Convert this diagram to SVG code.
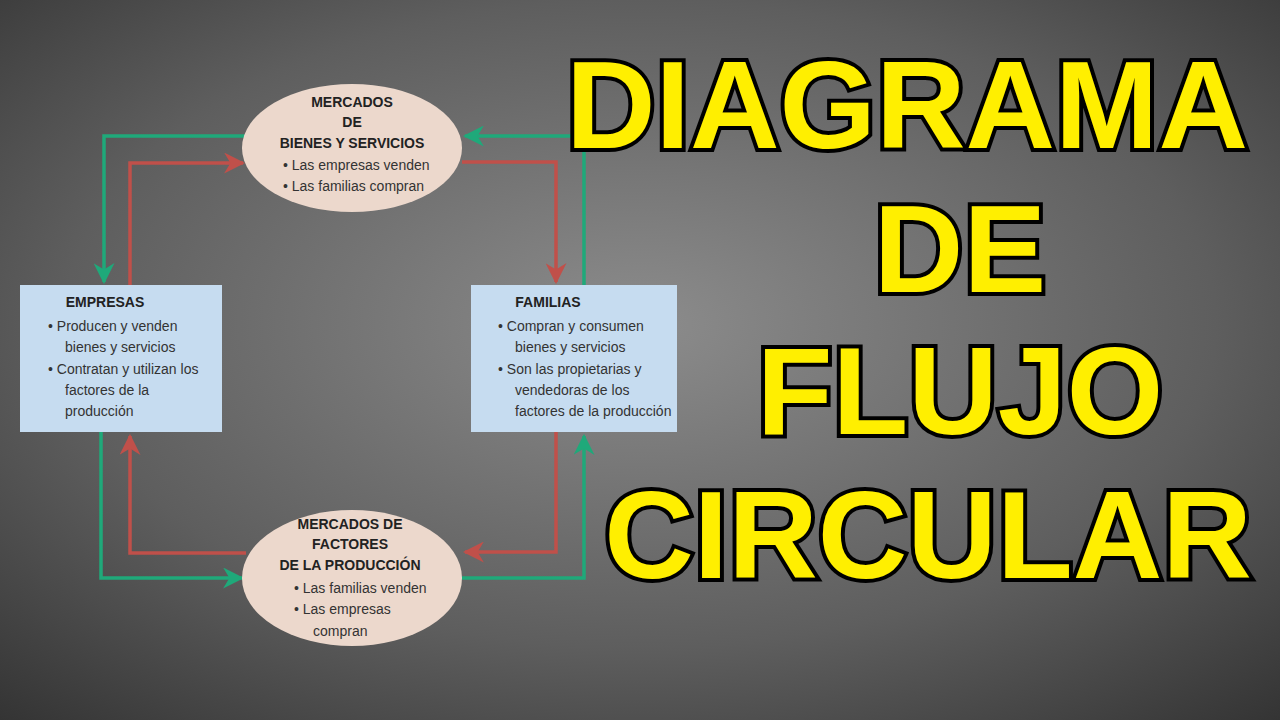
<svg xmlns="http://www.w3.org/2000/svg" width="1280" height="720" viewBox="0 0 1280 720">
<defs>
<radialGradient id="bg" cx="0.5" cy="0.45" r="0.75">
<stop offset="0" stop-color="#8c8c8c"/><stop offset="0.6" stop-color="#5e5e5e"/><stop offset="1" stop-color="#333"/>
</radialGradient>
<marker id="ag" viewBox="0 0 10 10" refX="9" refY="5" markerWidth="6" markerHeight="6" orient="auto" markerUnits="strokeWidth"><path d="M0,0 L10,5 L0,10 L3,5 z" fill="#1fa97a"/></marker>
<marker id="ar" viewBox="0 0 10 10" refX="9" refY="5" markerWidth="6" markerHeight="6" orient="auto" markerUnits="strokeWidth"><path d="M0,0 L10,5 L0,10 L3,5 z" fill="#c0504a"/></marker>
</defs>
<style>
.g{fill:none;stroke:#1fa97a;stroke-width:3.5;marker-end:url(#ag)}
.r{fill:none;stroke:#c0504a;stroke-width:3.5;marker-end:url(#ar)}
.ell{fill:#ecd8cc}
.box{fill:#c6dcf0}
text{font-family:"Liberation Sans",Arial,sans-serif;font-size:14px;fill:#333}
.b{font-weight:bold;fill:#222}
.t{font-family:"Liberation Sans",Arial,sans-serif;font-weight:bold;font-size:124px;fill:#ffef00;stroke:#000;stroke-width:8;paint-order:stroke;text-anchor:middle}
</style>
<rect width="1280" height="720" fill="url(#bg)"/>
<g id="connectors">
<path class="g" d="M246,136 H104 V282"/>
<path class="r" d="M130,285 V163 H243"/>
<path class="r" d="M462,162 H556 V282"/>
<path class="g" d="M584,285 V136 H465"/>
<path class="g" d="M101,432 V578 H242"/>
<path class="r" d="M246,553 H130 V436"/>
<path class="r" d="M556,432 V552 H465"/>
<path class="g" d="M462,578 H584 V436"/>
</g>
<g id="mercados-bienes">
<ellipse class="ell" cx="352" cy="148" rx="110" ry="64"/>
<text class="b" x="352" y="107" text-anchor="middle">MERCADOS</text>
<text class="b" x="352" y="127" text-anchor="middle">DE</text>
<text class="b" x="352" y="148" text-anchor="middle">BIENES Y SERVICIOS</text>
<text x="283" y="170">•  Las empresas venden</text>
<text x="283" y="191">•  Las familias compran</text>
</g>
<g id="mercados-factores">
<ellipse class="ell" cx="352" cy="578" rx="110" ry="68"/>
<text class="b" x="350" y="529" text-anchor="middle">MERCADOS DE</text>
<text class="b" x="350" y="549" text-anchor="middle">FACTORES</text>
<text class="b" x="350" y="570" text-anchor="middle">DE LA PRODUCCIÓN</text>
<text x="294" y="593">•  Las familias venden</text>
<text x="294" y="614">•  Las empresas</text>
<text x="313" y="636">compran</text>
</g>
<g id="empresas">
<rect class="box" x="20" y="285" width="202" height="147"/>
<text class="b" x="105" y="307" text-anchor="middle">EMPRESAS</text>
<text x="48" y="331">•  Producen y venden</text>
<text x="65" y="352">bienes y servicios</text>
<text x="48" y="374">•  Contratan y utilizan los</text>
<text x="65" y="395">factores de la</text>
<text x="65" y="416">producción</text>
</g>
<g id="familias">
<rect class="box" x="471" y="285" width="206" height="147"/>
<text class="b" x="548" y="307" text-anchor="middle">FAMILIAS</text>
<text x="498" y="331">•  Compran y consumen</text>
<text x="515" y="352">bienes y servicios</text>
<text x="498" y="374">•  Son las propietarias y</text>
<text x="515" y="395">vendedoras de los</text>
<text x="515" y="416">factores de la producción</text>
</g>
<g id="title">
<text class="t" x="907" y="148">DIAGRAMA</text>
<text class="t" x="960" y="292">DE</text>
<text class="t" x="960" y="434">FLUJO</text>
<text class="t" x="928" y="578">CIRCULAR</text>
</g>
</svg>
